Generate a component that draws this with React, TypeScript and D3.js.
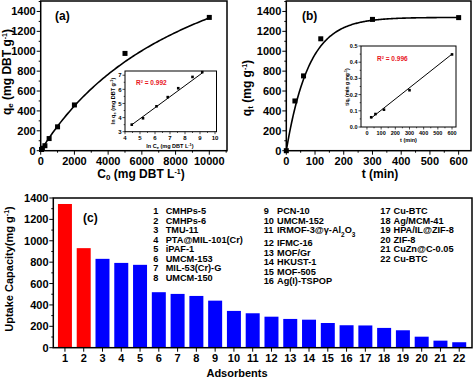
import React from "react";
import * as d3 from "d3";

// ---------- DATA ----------
// (a) isotherm
const isoC0 = [50, 100, 250, 500, 1000, 2000, 5000, 10000];
const isoQ = [12, 25, 50, 122, 240, 460, 978, 1340];
const isoFitA = 0.2715; // Langmuir-type fit q = a*C/(1+b*C)
const isoFitB = 1.034e-4;
// (a) inset: ln qe vs ln Ce
const lnCe = [4.45, 5.2, 6.1, 6.85, 7.55, 8.5, 9.15];
const lnQe = [3.5, 3.95, 4.8, 5.45, 6.08, 6.88, 7.22];
const lnFit = { x0: 4.4, y0: 3.45, x1: 9.2, y1: 7.2 };
// (b) kinetics
const kinT = [0, 30, 60, 120, 300, 600];
const kinQ = [0, 500, 752, 1125, 1320, 1338];
const kinFitQe = 1340;
const kinFitK = 0.0128;
// (b) inset: t/qt vs t
const insT = [30, 60, 120, 300, 600];
const insTQ = [0.06, 0.08, 0.107, 0.227, 0.448];
const insFit = { x0: 30, y0: 0.055, x1: 600, y1: 0.45 };
// (c) bars
const barIds = d3.range(1, 23);
const barValues = [1344, 931, 831, 793, 775, 519, 503, 484, 440, 344, 322, 290, 269, 262, 231, 210, 208, 185, 163, 103, 66, 51];
const barLabels = [
  "CMHPs-5", "CMHPs-6", "TMU-11", "PTA@MIL-101(Cr)", "iPAF-1", "UMCM-153", "MIL-53(Cr)-G", "UMCM-150",
  "PCN-10", "UMCM-152", "IRMOF-3@γ-Al_2O_3", "IFMC-16", "MOF/Gr", "HKUST-1", "MOF-505", "Ag(I)-TSPOP",
  "Cu-BTC", "Ag/MCM-41", "HPA/IL@ZIF-8", "ZIF-8", "CuZn@C-0.05", "Cu-BTC",
];
const yTicksMain = d3.range(0, 1401, 200);
const xTicksA = d3.range(0, 10001, 2000);
const xTicksB = d3.range(0, 601, 100);
const yTicksC = d3.range(0, 1401, 200);

const FONT = "'Liberation Sans', Arial, Helvetica, sans-serif";

function Sub({ text }: { text: string }) {
  const parts = text.split(/(_\d)/);
  return (
    <>
      {parts.map((p, i) =>
        p.startsWith("_") ? (
          <tspan key={i} baselineShift="sub" fontSize="0.7em">{p.slice(1)}</tspan>
        ) : (
          <tspan key={i}>{p}</tspan>
        )
      )}
    </>
  );
}

function Frame({ x0, x1, y0, y1, sw = 1.5 }: any) {
  return <rect x={x0} y={y0} width={x1 - x0} height={y1 - y0} fill="none" stroke="#000" strokeWidth={sw} />;
}

export default function App() {
  // ---------- scales ----------
  const xA = d3.scaleLinear().domain([0, 11050]).range([40.7, 227]);
  const yA = d3.scaleLinear().domain([0, 1505]).range([150.7, 1]);
  const xB = d3.scaleLinear().domain([0, 643]).range([286.3, 471]);
  const yB = yA;
  const xIa = d3.scaleLinear().domain([4, 10]).range([125, 215]);
  const yIa = d3.scaleLinear().domain([3, 7.3]).range([131.7, 71]);
  const xIb = d3.scaleLinear().domain([-42, 628]).range([361, 456]);
  const yIb = d3.scaleLinear().domain([0, 0.5]).range([127, 46]);
  const xC = d3.scaleLinear().domain([0.38, 22.68]).range([53.3, 472]);
  const yC = d3.scaleLinear().domain([0, 1400]).range([347.7, 198]);

  const fitA = d3.range(0, 10001, 100).map((c) => [c, (isoFitA * c) / (1 + isoFitB * c)]);
  const fitB = d3.range(0, 601, 3).map((t) => [t, kinFitQe * (1 - Math.exp(-kinFitK * t))]);
  const lineA = d3.line<number[]>().x((d) => xA(d[0])).y((d) => yA(d[1]));
  const lineB = d3.line<number[]>().x((d) => xB(d[0])).y((d) => yB(d[1]));

  const bw = xC(0.745) - xC(0);

  const tickText = { fontFamily: FONT, fontWeight: 700, fontSize: 11 } as any;
  const insText = { fontFamily: FONT, fontWeight: 700, fontSize: 5.5 } as any;

  const yAxis = (ys: any, x: number, ticks: number[], minorStep: number, max: number) => (
    <g>
      {d3.range(0, max + 1, minorStep).map((v) => (
        <line key={"m" + v} x1={x} x2={x - (v % (minorStep * 2) === 0 ? 4 : 2)} y1={ys(v)} y2={ys(v)} stroke="#000" strokeWidth={1} />
      ))}
      {ticks.map((v) => (
        <text key={v} x={x - 5} y={ys(v)} dy="0.36em" textAnchor="end" {...tickText}>{v}</text>
      ))}
    </g>
  );

  return (
    <svg width={474} height={379} style={{ position: "absolute", left: 0, top: 0, background: "#fff" }}>
      <rect width={474} height={379} fill="#fff" />
      {/* ================= PANEL A ================= */}
      <g>
        <Frame x0={40.7} x1={227} y0={1} y1={150.7} />
        {yAxis(yA, 40.7, yTicksMain, 100, 1500)}
        {d3.range(0, 11001, 1000).map((v) => (
          <line key={v} x1={xA(v)} x2={xA(v)} y1={150.7} y2={150.7 + (v % 2000 === 0 ? 4 : 2)} stroke="#000" />
        ))}
        {xTicksA.map((v) => (
          <text key={v} x={xA(v)} y={165} textAnchor="middle" {...tickText}>{v}</text>
        ))}
        <path d={lineA(fitA) || ""} fill="none" stroke="#000" strokeWidth={1.6} />
        {isoC0.map((c, i) => (
          <rect key={i} x={xA(c) - 2.5} y={yA(isoQ[i]) - 2.5} width={5} height={5} fill="#000" />
        ))}
        <text x={55} y={20} fontFamily={FONT} fontWeight={700} fontSize={12}>(a)</text>
        <text x={141} y={178} textAnchor="middle" fontFamily={FONT} fontWeight={700} fontSize={12}>
          C<tspan fontSize={8} dy={2}>0</tspan><tspan dy={-2}> (mg DBT L</tspan><tspan fontSize={7} dy={-4}>-1</tspan><tspan dy={4}>)</tspan>
        </text>
        <text transform="translate(11,72) rotate(-90)" textAnchor="middle" fontFamily={FONT} fontWeight={700} fontSize={12}>
          q<tspan fontSize={8} dy={2}>e</tspan><tspan dy={-2}> (mg DBT g</tspan><tspan fontSize={7} dy={-4}>-1</tspan><tspan dy={4}>)</tspan>
        </text>

        {/* inset A */}
        <rect x={125} y={71} width={91.5} height={60.7} fill="#fff" />
        <Frame x0={125} x1={216.5} y0={71} y1={131.7} sw={1} />
        {d3.range(3, 7.01, 0.5).map((v) => (
          <line key={v} x1={125} x2={125 - (Number.isInteger(v) ? 2.5 : 1.3)} y1={yIa(v)} y2={yIa(v)} stroke="#000" strokeWidth={0.7} />
        ))}
        {d3.range(3, 8).map((v) => (
          <text key={v} x={121.5} y={yIa(v)} dy="0.36em" textAnchor="end" {...insText} fontSize={6}>{v}</text>
        ))}
        {d3.range(4, 10.01, 0.5).map((v) => (
          <line key={v} x1={xIa(v)} x2={xIa(v)} y1={131.7} y2={131.7 + (Number.isInteger(v) ? 2.5 : 1.3)} stroke="#000" strokeWidth={0.7} />
        ))}
        {d3.range(4, 11).map((v) => (
          <text key={v} x={xIa(v)} y={140} textAnchor="middle" {...insText} fontSize={6}>{v}</text>
        ))}
        <line x1={xIa(lnFit.x0)} y1={yIa(lnFit.y0)} x2={xIa(lnFit.x1)} y2={yIa(lnFit.y1)} stroke="#000" strokeWidth={1} />
        {lnCe.map((c, i) => (
          <rect key={i} x={xIa(c) - 1.3} y={yIa(lnQe[i]) - 1.3} width={2.6} height={2.6} fill="#000" />
        ))}
        <text x={136} y={85} fill="#e8141c" {...insText} fontSize={6.5}>
          R<tspan fontSize={4} dy={-2.5}>2</tspan><tspan dy={2.5}> = 0.992</tspan>
        </text>
        <text x={170} y={147.5} textAnchor="middle" {...insText}>
          ln C<tspan fontSize={4} dy={1}>e</tspan><tspan dy={-1}> (mg DBT L</tspan><tspan fontSize={4} dy={-2}>-1</tspan><tspan dy={2}>)</tspan>
        </text>
        <text transform="translate(115,101) rotate(-90)" textAnchor="middle" {...insText}>
          ln q<tspan fontSize={4} dy={1}>e</tspan><tspan dy={-1}> (mg DBT g</tspan><tspan fontSize={4} dy={-2}>-1</tspan><tspan dy={2}>)</tspan>
        </text>
      </g>

      {/* ================= PANEL B ================= */}
      <g>
        <Frame x0={286.3} x1={471} y0={1} y1={150.7} />
        {yAxis(yB, 286.3, yTicksMain, 100, 1500)}
        {d3.range(0, 641, 50).map((v) => (
          <line key={v} x1={xB(v)} x2={xB(v)} y1={150.7} y2={150.7 + (v % 100 === 0 ? 4 : 2)} stroke="#000" />
        ))}
        {xTicksB.map((v) => (
          <text key={v} x={xB(v)} y={165} textAnchor="middle" {...tickText}>{v}</text>
        ))}
        <path d={lineB(fitB) || ""} fill="none" stroke="#000" strokeWidth={1.6} />
        {kinT.map((t, i) => (
          <rect key={i} x={xB(t) - 2.5} y={yB(kinQ[i]) - 2.5} width={5} height={5} fill="#000" />
        ))}
        <text x={302} y={20} fontFamily={FONT} fontWeight={700} fontSize={12}>(b)</text>
        <text x={380} y={178} textAnchor="middle" fontFamily={FONT} fontWeight={700} fontSize={12}>t (min)</text>
        <text transform="translate(251,88) rotate(-90)" textAnchor="middle" fontFamily={FONT} fontWeight={700} fontSize={12}>
          q<tspan fontSize={8} dy={2}>t</tspan><tspan dy={-2}> (mg g</tspan><tspan fontSize={7} dy={-4}>-1</tspan><tspan dy={4}>)</tspan>
        </text>

        {/* inset B */}
        <Frame x0={361} x1={456} y0={46} y1={127} sw={1} />
        {d3.range(0, 0.501, 0.05).map((v, i) => (
          <line key={i} x1={361} x2={361 - (i % 2 === 0 ? 2.5 : 1.3)} y1={yIb(v)} y2={yIb(v)} stroke="#000" strokeWidth={0.7} />
        ))}
        {d3.range(0, 0.501, 0.1).map((v, i) => (
          <text key={i} x={357.5} y={yIb(v)} dy="0.36em" textAnchor="end" {...insText}>{v.toFixed(1)}</text>
        ))}
        {d3.range(0, 601, 50).map((v) => (
          <line key={v} x1={xIb(v)} x2={xIb(v)} y1={127} y2={127 + (v % 100 === 0 ? 2.5 : 1.3)} stroke="#000" strokeWidth={0.7} />
        ))}
        {d3.range(0, 601, 100).map((v) => (
          <text key={v} x={xIb(v)} y={135} textAnchor="middle" {...insText}>{v}</text>
        ))}
        <line x1={xIb(insFit.x0)} y1={yIb(insFit.y0)} x2={xIb(insFit.x1)} y2={yIb(insFit.y1)} stroke="#000" strokeWidth={1} />
        {insT.map((t, i) => (
          <rect key={i} x={xIb(t) - 1.3} y={yIb(insTQ[i]) - 1.3} width={2.6} height={2.6} fill="#000" />
        ))}
        <text x={377} y={61} fill="#e8141c" {...insText} fontSize={6.5}>
          R<tspan fontSize={4} dy={-2.5}>2</tspan><tspan dy={2.5}> = 0.996</tspan>
        </text>
        <text x={408.5} y={142} textAnchor="middle" {...insText}>t (min)</text>
        <text transform="translate(349,87) rotate(-90)" textAnchor="middle" {...insText} fontSize={5}>
          t/q<tspan fontSize={3.5} dy={1}>t</tspan><tspan dy={-1}> (min g mg</tspan><tspan fontSize={3.5} dy={-2}>-1</tspan><tspan dy={2}>)</tspan>
        </text>
      </g>

      {/* ================= PANEL C ================= */}
      <g>
        {barIds.map((id, i) => (
          <rect key={id} x={xC(id) - bw / 2} y={yC(barValues[i])} width={bw} height={yC(0) - yC(barValues[i])}
            fill={i < 2 ? "#ff0000" : "#0000ff"} />
        ))}
        <Frame x0={53.3} x1={472} y0={198} y1={347.7} />
        {d3.range(0, 1401, 100).map((v) => (
          <line key={v} x1={53.3} x2={53.3 - (v % 200 === 0 ? 4 : 2)} y1={yC(v)} y2={yC(v)} stroke="#000" />
        ))}
        {yTicksC.map((v) => (
          <text key={v} x={48.5} y={yC(v)} dy="0.36em" textAnchor="end" {...tickText}>{v}</text>
        ))}
        {barIds.map((id) => (
          <line key={id} x1={xC(id)} x2={xC(id)} y1={347.7} y2={351.7} stroke="#000" />
        ))}
        {barIds.map((id) => (
          <text key={id} x={xC(id)} y={362} textAnchor="middle" {...tickText}>{id}</text>
        ))}
        <text x={237} y={377} textAnchor="middle" fontFamily={FONT} fontWeight={700} fontSize={11}>Adsorbents</text>
        <text transform="translate(13,269) rotate(-90)" textAnchor="middle" fontFamily={FONT} fontWeight={700} fontSize={11}>
          Uptake Capacity(mg g<tspan fontSize={7} dy={-4}>-1</tspan><tspan dy={4}>)</tspan>
        </text>
        <text x={83} y={222} fontFamily={FONT} fontWeight={700} fontSize={12}>(c)</text>
        {barLabels.map((lab, i) => {
          const col = i < 8 ? 0 : i < 16 ? 1 : 2;
          const row = i - col * 8;
          const nx = [153.3, 263.7, 380.3][col];
          const tx = [165.7, 277, 393.5][col];
          const extra = col === 1 && row >= 3 ? 3.5 : 0;
          const y = 214 + row * 9.5 + extra;
          return (
            <g key={i} fontFamily={FONT} fontWeight={700} fontSize={9.2}>
              <text x={nx} y={y}>{i + 1}</text>
              <text x={tx} y={y}><Sub text={lab} /></text>
            </g>
          );
        })}
      </g>
    </svg>
  );
}
